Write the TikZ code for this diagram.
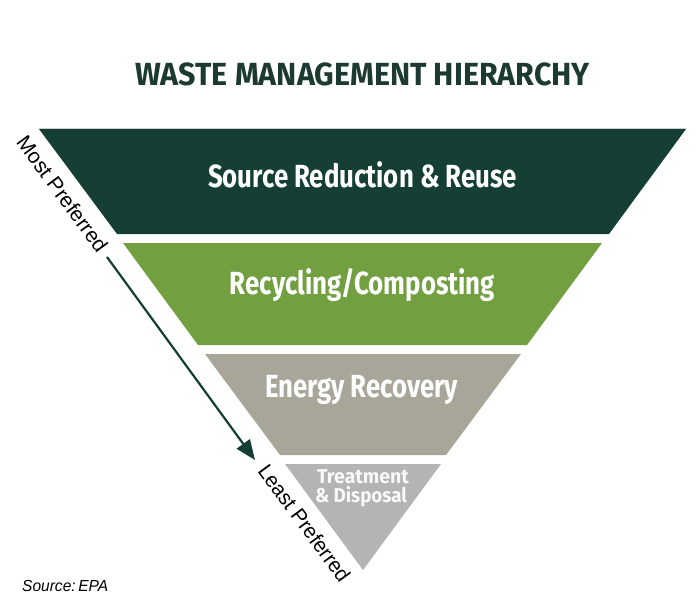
\documentclass[tikz,border=0pt]{standalone}
\usepackage{fontspec}
\setmainfont{Fira Sans}
\newfontfamily\labfont{Liberation Sans}
\usetikzlibrary{arrows.meta}
\definecolor{dkgreen}{HTML}{153F35}
\definecolor{ltgreen}{HTML}{72A041}
\definecolor{warmgray}{HTML}{A8A698}
\definecolor{ltgray}{HTML}{B4B3B5}
\definecolor{titlecol}{HTML}{1C3A31}
\newcommand\fitw[2]{\resizebox{#1}{\height}{#2}}
\tikzset{
  band/.style={inner sep=0pt, anchor=base, text=white, font=\fontsize{32}{32}\selectfont\bfseries},
  smallband/.style={inner sep=0pt, anchor=base, text=white!92!ltgray, font=\fontsize{20}{20}\selectfont\bfseries},
  sidelabel/.style={inner sep=0pt, anchor=center, rotate=-53.7, text=black, font=\labfont\fontsize{21}{21}\selectfont},
  prefarrow/.style={draw=dkgreen, line width=2.2pt, -{Triangle[length=20pt,width=16pt]}, fill=dkgreen}
}
\begin{document}
\begin{tikzpicture}[x=1pt,y=-1pt]
\useasboundingbox[fill=white] (0,0) rectangle (700,614);
% bands
\fill[dkgreen] (39,129) -- (686,129) -- (609,234) -- (117,234) -- cycle;
\draw[gray!40, line width=0.6pt] (39,128.7) -- (686,128.7);
\fill[ltgreen] (123,243) -- (602,243) -- (527,345) -- (198,345) -- cycle;
\fill[warmgray] (205,354) -- (521,354) -- (446,455) -- (280,455) -- cycle;
\fill[ltgray] (285,464) -- (441,464) -- (363,570) -- cycle;
% title
\node[inner sep=0pt, anchor=base, text=titlecol, font=\fontsize{32}{32}\selectfont\bfseries] (title) at (362.5,85) {\fitw{455pt}{WASTE MANAGEMENT HIERARCHY}};
% band labels
\node[band] (t1) at (362.5,187) {\fitw{309pt}{Source Reduction \& Reuse}};
\node[band] (t2) at (362.5,294) {\fitw{265pt}{Recycling/Composting}};
\node[band] (t3) at (361.5,397) {\fitw{193pt}{Energy Recovery}};
\node[smallband] (t4a) at (363,483) {\fitw{92pt}{Treatment}};
\node[smallband] (t4b) at (361,502) {\fitw{92pt}{\& Disposal}};
% side labels
\node[sidelabel] (most) at (62.5,194) {\fitw{138pt}{Most Preferred}};
\node[sidelabel] (least) at (304.5,523) {\fitw{140pt}{Least Preferred}};
\coordinate (as) at (107,257);
\coordinate (ae) at (255,460);
\draw[prefarrow] (as) -- (ae);
% source
\node[inner sep=0pt, anchor=base west, font=\labfont\itshape\fontsize{16}{16}\selectfont] (src) at (22,591) {\fitw{86pt}{Source:\,EPA}};
\end{tikzpicture}
\end{document}
